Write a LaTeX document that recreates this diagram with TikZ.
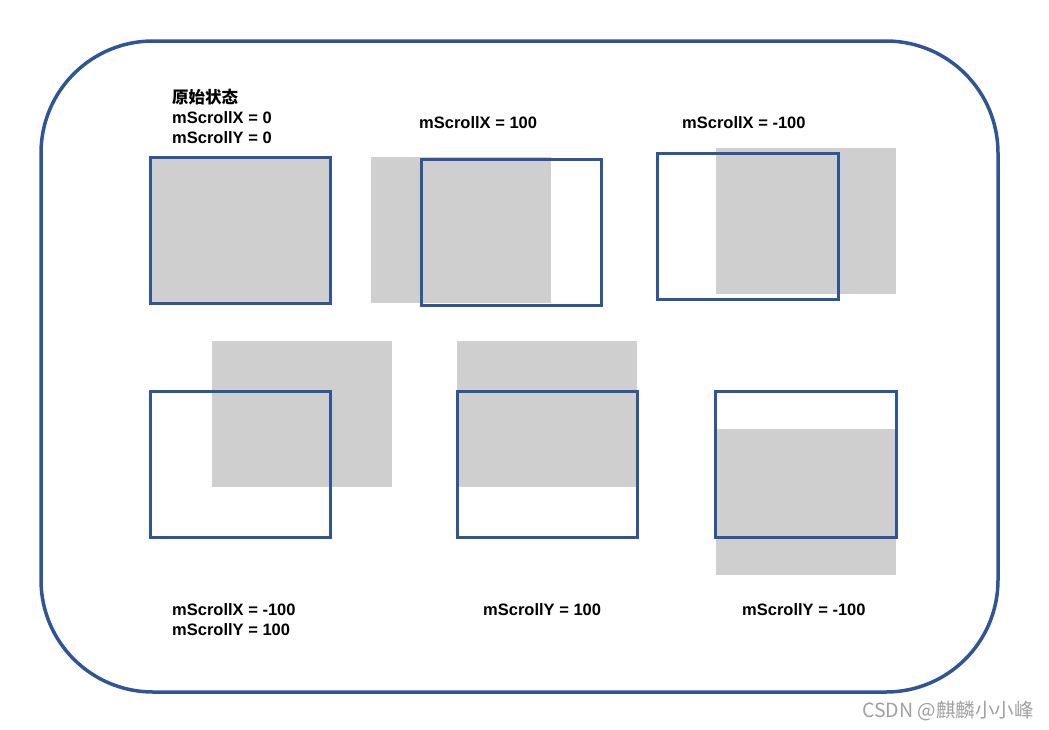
\documentclass[tikz,border=0pt]{standalone}
\usepackage{fontspec}
\setmainfont{Liberation Sans}
\newfontfamily\cjk{Noto Sans CJK SC}
\definecolor{marco}{RGB}{47,85,151}
\definecolor{gris}{RGB}{207,207,207}
\definecolor{marca}{RGB}{160,160,160}

\tikzset{
  vista/.style={draw=marco,line width=3pt},
  contenido/.style={fill=gris,draw=none},
  rotulo/.style={anchor=base west,inner sep=0pt,font=\bfseries\fontsize{16.5}{20}\selectfont}
}

\begin{document}
\begin{tikzpicture}[x=1pt,y=-1pt]
\useasboundingbox (0,0) rectangle (1049,729);

% marco exterior
\draw[marco,line width=3.5pt,rounded corners=112pt] (41,41) rectangle (998,692);

% Primera fila
\fill[contenido] (150,157) rectangle (330,303);
\draw[vista] (150,157) rectangle (330,303);

\fill[contenido] (371,157) rectangle (551,303);
\draw[vista] (421,159) rectangle (601,305);

\fill[contenido] (716,148) rectangle (896,294);
\draw[vista] (657,153) rectangle (838,299);

% Segunda fila
\fill[contenido] (212,341) rectangle (392,487);
\draw[vista] (150,391) rectangle (330,537);

\fill[contenido] (457,341) rectangle (637,487);
\draw[vista] (457,391) rectangle (637,537);

\fill[contenido] (716,429) rectangle (896,575);
\draw[vista] (715,391) rectangle (896,537);

% Textos
\node[rotulo] (orig) at (172,103) {\cjk\bfseries 原始状态};
\node[rotulo] (origx) at (172,123) {mScrollX = 0};
\node[rotulo] (origy) at (172,143) {mScrollY = 0};
\node[rotulo] (dx) at (419,128) {mScrollX = 100};
\node[rotulo] (ix) at (682,128) {mScrollX = -100};
\node[rotulo] (ixdy) at (172,615) {mScrollX = -100};
\node[rotulo] (ixdy2) at (172,635) {mScrollY = 100};
\node[rotulo] (dy) at (483,615) {mScrollY = 100};
\node[rotulo] (iy) at (742,615) {mScrollY = -100};

\node[anchor=base west,inner sep=0pt,text=marca,font=\cjk\fontsize{19.5}{22}\selectfont] (firma) at (862,717) {CSDN @麒麟小小峰};
\end{tikzpicture}
\end{document}
